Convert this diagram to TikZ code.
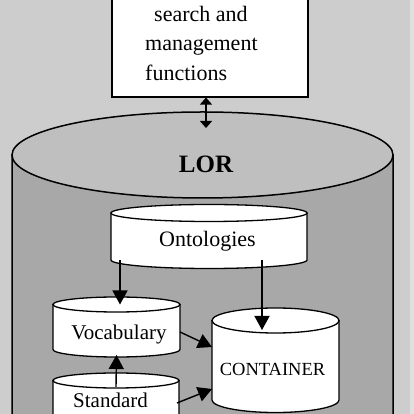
\documentclass[tikz,border=0pt]{standalone}
\usepackage{fontspec}
\setmainfont{Liberation Serif}
\usetikzlibrary{arrows.meta,calc}
\definecolor{bgc}{HTML}{CDCDCD}
\definecolor{stripc}{HTML}{E0E0E0}
\definecolor{lorbody}{HTML}{A8A8A8}
\definecolor{lortop}{HTML}{BFBFBF}
\tikzset{
  cylbox/.style={draw=none,inner sep=0pt,outer sep=0pt},
  cyl/.style={draw=black,fill=white,line width=1.3pt},
  conn/.style={line width=1.4pt,-{Triangle[width=15pt,length=14pt]}},
  dconn/.style={line width=1.4pt,{Triangle[width=12pt,length=7pt]}-{Triangle[width=12pt,length=7pt]}},
  boxtext/.style={anchor=base west,inner sep=0pt,font=\fontsize{22}{26}\selectfont},
  cyltext/.style={anchor=base,inner sep=0pt},
}
\begin{document}
\begin{tikzpicture}[x=1pt,y=1pt]
\useasboundingbox (0,0) rectangle (414,414);
\clip (0,0) rectangle (414,414);
\fill[bgc] (0,0) rectangle (414,414);
\fill[stripc] (410,0) rectangle (414,414);
% big LOR cylinder
\node[cylbox,minimum width=381pt,minimum height=299pt] (lor) at (202.5,109.5) {};
\filldraw[draw=black,fill=lorbody,line width=1.5pt] (lor.north west) -- (lor.south west) arc[start angle=180,end angle=360,x radius=190.5pt,y radius=43pt] -- (lor.north east) -- cycle;
\filldraw[draw=black,fill=lortop,line width=1.5pt] (lor.north) ellipse[x radius=190.5pt,y radius=43pt];
\node[cyltext,font=\fontsize{25}{30}\selectfont\bfseries] (lortxt) at (206,241.3) {LOR};
% function box
\node[draw=black,fill=white,line width=1.2pt,minimum width=196pt,minimum height=130pt,inner sep=0pt] (func) at (210,382) {};
\node[boxtext] (t1) at (154,392) {search and};
\node[boxtext] (t2) at (145,363) {management};
\node[boxtext] (t3) at (145,333) {functions};
\coordinate (lorin) at (206,286);
\draw[dconn] (func.south -| lorin) -- (lorin);
% Ontologies
\node[cylbox,minimum width=196pt,minimum height=47pt] (ont) at (209,177.5) {};
\filldraw[cyl] (ont.north west) -- (ont.south west) arc[start angle=180,end angle=360,x radius=98pt,y radius=8.5pt] -- (ont.north east) -- cycle;
\filldraw[cyl] (ont.north) ellipse[x radius=98pt,y radius=8.5pt];
\node[cyltext,font=\fontsize{22}{26}\selectfont] (onttxt) at (207.5,167.5) {Ontologies};
% Vocabulary
\node[cylbox,minimum width=127pt,minimum height=45pt] (voc) at (116.5,87) {};
\filldraw[cyl] (voc.north west) -- (voc.south west) arc[start angle=180,end angle=360,x radius=63.5pt,y radius=7.5pt] -- (voc.north east) -- cycle;
\filldraw[cyl] (voc.north) ellipse[x radius=63.5pt,y radius=7.5pt];
\node[cyltext,font=\fontsize{21}{25}\selectfont] (voctxt) at (119,74) {Vocabulary};
% Standard
\node[cylbox,minimum width=126pt,minimum height=53.5pt] (std) at (116,6.75) {};
\filldraw[cyl] (std.north west) -- (std.south west) arc[start angle=180,end angle=360,x radius=63pt,y radius=7.5pt] -- (std.north east) -- cycle;
\filldraw[cyl] (std.north) ellipse[x radius=63pt,y radius=7.5pt];
\node[cyltext,font=\fontsize{21}{25}\selectfont] (stdtxt) at (110.5,6) {Standard};
% CONTAINER
\node[cylbox,minimum width=127pt,minimum height=79.5pt] (cont) at (275.5,53.75) {};
\filldraw[cyl] (cont.north west) -- (cont.south west) arc[start angle=180,end angle=360,x radius=63.5pt,y radius=12.5pt] -- (cont.north east) -- cycle;
\filldraw[cyl] (cont.north) ellipse[x radius=63.5pt,y radius=12.5pt];
\node[cyltext,font=\fontsize{18.5}{22}\selectfont] (conttxt) at (272.5,38) {CONTAINER};
% connectors
\draw[conn] ([xshift=3.5pt]ont.south -| voc.north) -- ([xshift=3.5pt]voc.north);
\draw[conn] ([xshift=-13.5pt]ont.south -| cont.north) -- ([xshift=-13.5pt,yshift=-9.5pt]cont.north);
\draw[conn] ([yshift=-5pt]voc.east) -- ([yshift=13.25pt]cont.west);
\draw[conn] ([yshift=-6.5pt]std.north) -- ([yshift=-5.5pt]voc.south);
\draw[conn] ([xshift=-2pt,yshift=4.25pt]std.east) -- ([yshift=-28.75pt]cont.west);
\end{tikzpicture}
\end{document}
